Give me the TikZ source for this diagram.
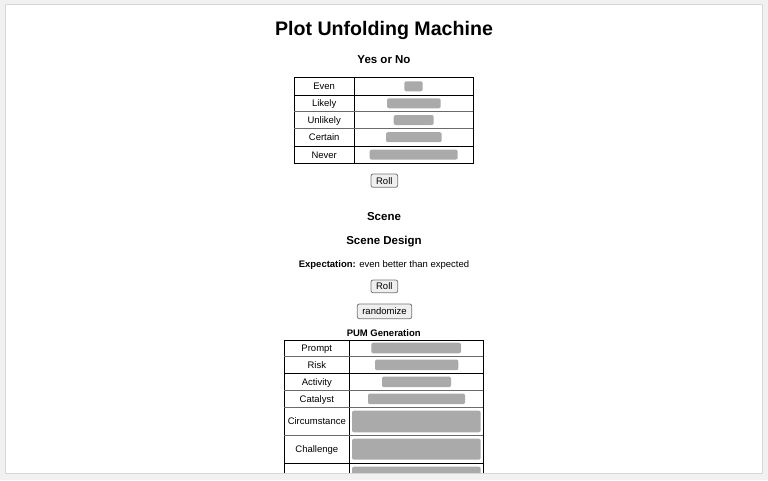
\documentclass[tikz,border=0pt]{standalone}
\usepackage{fontspec}
\setmainfont{Liberation Sans}
\definecolor{pagebg}{HTML}{F1F1F1}
\definecolor{panelline}{HTML}{D6D6D6}
\definecolor{barc}{HTML}{AAAAAA}
\definecolor{btnfill}{HTML}{EFEFEF}
\definecolor{btnline}{HTML}{767676}
\definecolor{thinline}{HTML}{6A6A6A}
\tikzset{
  txt/.style={inner sep=0pt, outer sep=0pt, anchor=base, font=\fontsize{9.5}{11}\selectfont},
  bigtitle/.style={inner sep=0pt, outer sep=0pt, anchor=base, font=\fontsize{19.6}{23}\selectfont\bfseries},
  subhead/.style={inner sep=0pt, outer sep=0pt, anchor=base, font=\fontsize{11.5}{14}\selectfont\bfseries},
  smallhead/.style={inner sep=0pt, outer sep=0pt, anchor=base, font=\fontsize{9.5}{11}\selectfont\bfseries},
  bar/.style={fill=barc, rounded corners=2pt},
  button/.style={fill=btnfill, draw=btnline, line width=0.8pt, rounded corners=2pt},
  tblline/.style={line width=0.9pt, black},
  tblthin/.style={line width=0.7pt, thinline},
}
\begin{document}
\begin{tikzpicture}[x=1pt,y=-1pt]
\useasboundingbox (0,0) rectangle (768,480);
\fill[pagebg] (0,0) rectangle (768,480);
\filldraw[fill=white, draw=panelline, line width=0.8pt] (5.5,4.5) rectangle (762.5,473.5);

% title and headings
\node[bigtitle] (title) at (384,35.3) {Plot Unfolding Machine};
\node[subhead] (yesno) at (384,63.2) {Yes or No};

% table 1
\draw[tblline] (294.3,77.7) rectangle (473.3,163.3);
\draw[tblline] (354,77.7) -- (354,163.3);
\draw[tblline] (294.3,95) -- (473.3,95);
\draw[tblthin] (294.3,111.7) -- (473.3,111.7);
\draw[tblthin] (294.3,128.3) -- (473.3,128.3);
\draw[tblline] (294.3,146) -- (473.3,146);
\node[txt] (even) at (324.2,89.7) {Even};
\node[txt] (likely) at (324.2,106.7) {Likely};
\node[txt] (unlikely) at (324.2,123.4) {Unlikely};
\node[txt] (certain) at (324.2,140.6) {Certain};
\node[txt] (never) at (324.2,158) {Never};
\fill[bar] (404.3,81.3) rectangle (422.7,91.3);
\fill[bar] (387,98.3) rectangle (440.7,108.3);
\fill[bar] (393.7,115) rectangle (433.7,125);
\fill[bar] (386,132.2) rectangle (441.7,142.2);
\fill[bar] (369.7,149.6) rectangle (457.7,159.6);

% roll button 1
\draw[button] (371,174) rectangle (397.7,187.3);
\node[txt] (roll1) at (384.3,184.1) {Roll};

% scene
\node[subhead] (scene) at (384,220.1) {Scene};
\node[subhead] (scenedesign) at (384,244.1) {Scene Design};
\node[txt] (expect) at (384,267.4) {\textbf{Expectation:} even better than expected};

\draw[button] (371,280) rectangle (397.7,292.7);
\node[txt] (roll2) at (384.3,289.8) {Roll};
\draw[button] (357.3,304) rectangle (411.7,318.7);
\node[txt] (randomize) at (384.5,314.8) {randomize};

\node[smallhead] (pum) at (383.7,336.6) {PUM Generation};

% table 2 (clipped at the panel bottom)
\begin{scope}
\clip (0,0) rectangle (768,473.5);
\draw[tblline] (284.3,340) -- (483.3,340);
\draw[tblline] (284.3,340) -- (284.3,500);
\draw[tblline] (483.3,340) -- (483.3,500);
\draw[tblline] (349.3,340) -- (349.3,500);
\draw[tblthin] (284.3,356.7) -- (483.3,356.7);
\draw[tblline] (284.3,373.3) -- (483.3,373.3);
\draw[tblthin] (284.3,390.3) -- (483.3,390.3);
\draw[tblthin] (284.3,407.3) -- (483.3,407.3);
\draw[tblthin] (284.3,435.3) -- (483.3,435.3);
\draw[tblline] (284.3,463.3) -- (483.3,463.3);
\node[txt] (prompt) at (316.8,351.8) {Prompt};
\node[txt] (risk) at (316.8,368.4) {Risk};
\node[txt] (activity) at (316.8,385.2) {Activity};
\node[txt] (catalyst) at (316.8,402.2) {Catalyst};
\node[txt] (circ) at (316.8,424.7) {Circumstance};
\node[txt] (chall) at (316.8,452.7) {Challenge};
\fill[bar] (371.3,342.7) rectangle (461,353.3);
\fill[bar] (375,359.5) rectangle (458.3,370.2);
\fill[bar] (382,376.5) rectangle (451,387.2);
\fill[bar] (368,393.5) rectangle (465,404.2);
\fill[bar] (352,410.7) rectangle (480.7,432.3);
\fill[bar] (352,438.7) rectangle (480.7,459.7);
\fill[bar] (352,466.7) rectangle (480.7,488);
\end{scope}
\draw[panelline, line width=0.8pt] (5.5,473.5) -- (762.5,473.5);
\end{tikzpicture}
\end{document}
